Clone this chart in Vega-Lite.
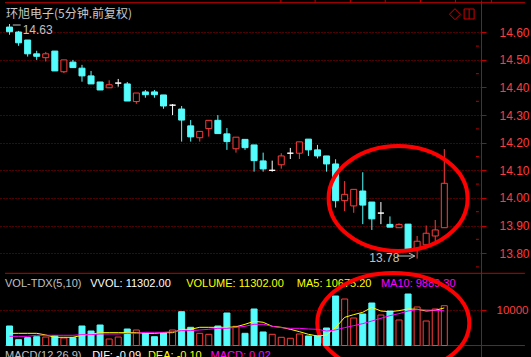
{
  "$schema": "https://vega.github.io/schema/vega-lite/v6.json",
  "width": 481,
  "height": 357,
  "autosize": {"type": "none"},
  "padding": {"left": 0, "top": 0, "right": 50, "bottom": 0},
  "background": "#000000",
  "config": {
    "view": {"stroke": null},
    "axis": {
      "labelFont": "Liberation Sans",
      "labelFontSize": 12,
      "labelColor": "#ff3c3c",
      "tickColor": "#c00000",
      "domainColor": "#c00000",
      "gridColor": "#a00000",
      "gridDash": [1, 2],
      "gridWidth": 1,
      "tickSize": 5,
      "labelPadding": 13,
      "labelFlush": false,
      "labelOverlap": false,
      "title": null
    }
  },
  "datasets": {
    "k": [
      {"i":1,"o":14.619,"h":14.63,"l":14.591,"c":14.602,"d":"down","vd":"down","v":5540,"ma5":3460,"ma10":2610},
      {"i":2,"o":14.601,"h":14.605,"l":14.551,"c":14.562,"d":"down","vd":"down","v":1650,"ma5":3460,"ma10":2610},
      {"i":3,"o":14.572,"h":14.572,"l":14.512,"c":14.522,"d":"down","vd":"down","v":2220,"ma5":3460,"ma10":2610},
      {"i":4,"o":14.522,"h":14.533,"l":14.5,"c":14.513,"d":"down","vd":"down","v":2500,"ma5":3460,"ma10":2900},
      {"i":5,"o":14.508,"h":14.529,"l":14.494,"c":14.522,"d":"up","vd":"up","v":2410,"ma5":2990,"ma10":2900},
      {"i":6,"o":14.532,"h":14.532,"l":14.46,"c":14.46,"d":"down","vd":"down","v":2790,"ma5":2330,"ma10":2900},
      {"i":7,"o":14.457,"h":14.5,"l":14.452,"c":14.5,"d":"up","vd":"up","v":2130,"ma5":2330,"ma10":2900},
      {"i":8,"o":14.492,"h":14.5,"l":14.472,"c":14.472,"d":"down","vd":"down","v":2220,"ma5":2330,"ma10":2900},
      {"i":9,"o":14.47,"h":14.482,"l":14.421,"c":14.442,"d":"down","vd":"down","v":5540,"ma5":2900,"ma10":3080},
      {"i":10,"o":14.442,"h":14.46,"l":14.413,"c":14.413,"d":"down","vd":"down","v":4120,"ma5":3180,"ma10":3080},
      {"i":11,"o":14.42,"h":14.42,"l":14.391,"c":14.391,"d":"down","vd":"down","v":5820,"ma5":3640,"ma10":3270},
      {"i":12,"o":14.399,"h":14.426,"l":14.399,"c":14.41,"d":"up","vd":"up","v":1850,"ma5":3640,"ma10":3270},
      {"i":13,"o":14.416,"h":14.431,"l":14.403,"c":14.416,"d":"flat","vd":"up","v":2410,"ma5":3640,"ma10":3270},
      {"i":14,"o":14.413,"h":14.42,"l":14.351,"c":14.351,"d":"down","vd":"down","v":4690,"ma5":3640,"ma10":3460},
      {"i":15,"o":14.349,"h":14.38,"l":14.341,"c":14.38,"d":"up","vd":"up","v":4400,"ma5":3640,"ma10":3460},
      {"i":16,"o":14.384,"h":14.391,"l":14.363,"c":14.374,"d":"down","vd":"down","v":3460,"ma5":3460,"ma10":3750},
      {"i":17,"o":14.384,"h":14.391,"l":14.363,"c":14.374,"d":"down","vd":"down","v":2500,"ma5":3460,"ma10":3750},
      {"i":18,"o":14.373,"h":14.373,"l":14.323,"c":14.333,"d":"down","vd":"down","v":3640,"ma5":3640,"ma10":3750},
      {"i":19,"o":14.336,"h":14.34,"l":14.3,"c":14.336,"d":"flat","vd":"up","v":4400,"ma5":3640,"ma10":3930},
      {"i":20,"o":14.322,"h":14.333,"l":14.204,"c":14.282,"d":"down","vd":"down","v":9600,"ma5":4600,"ma10":4220},
      {"i":21,"o":14.261,"h":14.282,"l":14.204,"c":14.221,"d":"down","vd":"down","v":5170,"ma5":4600,"ma10":4220},
      {"i":22,"o":14.218,"h":14.241,"l":14.204,"c":14.241,"d":"up","vd":"up","v":3460,"ma5":5170,"ma10":4410},
      {"i":23,"o":14.251,"h":14.281,"l":14.222,"c":14.281,"d":"up","vd":"up","v":3180,"ma5":5170,"ma10":4600},
      {"i":24,"o":14.281,"h":14.3,"l":14.233,"c":14.233,"d":"down","vd":"down","v":5540,"ma5":5170,"ma10":4880},
      {"i":25,"o":14.232,"h":14.253,"l":14.174,"c":14.204,"d":"down","vd":"down","v":9230,"ma5":5170,"ma10":4880},
      {"i":26,"o":14.178,"h":14.22,"l":14.164,"c":14.22,"d":"up","vd":"up","v":5450,"ma5":5300,"ma10":5170},
      {"i":27,"o":14.212,"h":14.212,"l":14.174,"c":14.182,"d":"down","vd":"down","v":3460,"ma5":6020,"ma10":5450},
      {"i":28,"o":14.192,"h":14.192,"l":14.095,"c":14.135,"d":"down","vd":"down","v":10370,"ma5":6870,"ma10":6020},
      {"i":29,"o":14.134,"h":14.164,"l":14.095,"c":14.105,"d":"down","vd":"down","v":3840,"ma5":6600,"ma10":6020},
      {"i":30,"o":14.1,"h":14.135,"l":14.095,"c":14.1,"d":"flat","vd":"up","v":3180,"ma5":5450,"ma10":5450},
      {"i":31,"o":14.12,"h":14.162,"l":14.106,"c":14.152,"d":"up","vd":"up","v":2330,"ma5":5170,"ma10":5070},
      {"i":32,"o":14.162,"h":14.181,"l":14.141,"c":14.162,"d":"flat","vd":"up","v":2050,"ma5":4600,"ma10":4880},
      {"i":33,"o":14.162,"h":14.203,"l":14.141,"c":14.203,"d":"up","vd":"up","v":3270,"ma5":3930,"ma10":4880},
      {"i":34,"o":14.213,"h":14.213,"l":14.152,"c":14.174,"d":"down","vd":"down","v":2700,"ma5":3180,"ma10":4690},
      {"i":35,"o":14.174,"h":14.192,"l":14.143,"c":14.152,"d":"down","vd":"down","v":2700,"ma5":2700,"ma10":4600},
      {"i":36,"o":14.152,"h":14.152,"l":14.095,"c":14.123,"d":"down","vd":"down","v":4970,"ma5":3000,"ma10":4100},
      {"i":37,"o":14.123,"h":14.14,"l":13.965,"c":13.99,"d":"down","vd":"down","v":14060,"ma5":5070,"ma10":4410},
      {"i":38,"o":13.99,"h":14.061,"l":13.952,"c":14.013,"d":"up","vd":"up","v":13210,"ma5":8000,"ma10":5070},
      {"i":39,"o":13.971,"h":14.031,"l":13.946,"c":14.031,"d":"up","vd":"up","v":7810,"ma5":8770,"ma10":5640},
      {"i":40,"o":14.025,"h":14.093,"l":13.905,"c":13.974,"d":"down","vd":"down","v":8950,"ma5":9430,"ma10":6210},
      {"i":41,"o":13.985,"h":13.985,"l":13.884,"c":13.924,"d":"down","vd":"down","v":12070,"ma5":10850,"ma10":6960},
      {"i":42,"o":13.945,"h":13.985,"l":13.905,"c":13.945,"d":"flat","vd":"up","v":8660,"ma5":9800,"ma10":7720},
      {"i":43,"o":13.904,"h":13.933,"l":13.894,"c":13.894,"d":"down","vd":"down","v":9800,"ma5":9600,"ma10":8480},
      {"i":44,"o":13.892,"h":13.908,"l":13.892,"c":13.904,"d":"up","vd":"up","v":7240,"ma5":9900,"ma10":9050},
      {"i":45,"o":13.905,"h":13.905,"l":13.81,"c":13.813,"d":"down","vd":"down","v":14630,"ma5":10370,"ma10":9800},
      {"i":46,"o":13.817,"h":13.862,"l":13.78,"c":13.843,"d":"up","vd":"up","v":10940,"ma5":10300,"ma10":10180},
      {"i":47,"o":13.83,"h":13.9,"l":13.83,"c":13.872,"d":"up","vd":"up","v":6960,"ma5":9800,"ma10":10090},
      {"i":48,"o":13.862,"h":13.92,"l":13.843,"c":13.884,"d":"up","vd":"up","v":10370,"ma5":10000,"ma10":10000},
      {"i":49,"o":13.892,"h":14.177,"l":13.892,"c":14.053,"d":"up","vd":"up","v":11302,"ma5":10675,"ma10":9889}
    ],
    "lines": [
      {"x1":0.5,"x2":57.9,"y1":14.7072,"y2":14.7072},
      {"x1":0.5,"x2":57.9,"y1":13.7268,"y2":13.7268},
      {"x1":0.5,"x2":57.9,"y1":13.4652,"y2":13.4652},
      {"x1":30.95,"x2":30.95,"y1":14.7072,"y2":14.72},
      {"x1":34.74,"x2":34.74,"y1":14.7072,"y2":14.72},
      {"x1":38.63,"x2":38.63,"y1":14.7072,"y2":14.72},
      {"x1":42.48,"x2":42.48,"y1":14.7072,"y2":14.72},
      {"x1":46.37,"x2":46.37,"y1":14.7072,"y2":14.72},
      {"x1":50.23,"x2":50.23,"y1":14.7072,"y2":14.72},
      {"x1":54.2,"x2":54.2,"y1":14.7072,"y2":14.72},
      {"x1":52.5,"x2":52.82,"y1":13.75,"y2":13.75},
      {"x1":52.5,"x2":52.82,"y1":13.85,"y2":13.85},
      {"x1":52.5,"x2":52.82,"y1":13.95,"y2":13.95},
      {"x1":52.5,"x2":52.82,"y1":14.05,"y2":14.05},
      {"x1":52.5,"x2":52.82,"y1":14.15,"y2":14.15},
      {"x1":52.5,"x2":52.82,"y1":14.25,"y2":14.25},
      {"x1":52.5,"x2":52.82,"y1":14.35,"y2":14.35},
      {"x1":52.5,"x2":52.82,"y1":14.45,"y2":14.45},
      {"x1":52.5,"x2":52.82,"y1":14.55,"y2":14.55}
    ],
    "marks": [
      {"x1":1.36,"x2":2.23,"y1":14.6264,"y2":14.6264},
      {"x1":43.74,"x2":45.69,"y1":13.7895,"y2":13.7895}
    ],
    "hdr": [
      {"s":0.5,"p":13.6783,"t":"VOL-TDX(5,10)","k":"gray"},
      {"s":9.91,"p":13.6783,"t":"VVOL: 11302.00","k":"white"},
      {"s":20.5,"p":13.6783,"t":"VOLUME: 11302.00","k":"yellow"},
      {"s":32.72,"p":13.6783,"t":"MA5: 10675.20","k":"yellow"},
      {"s":42.0,"p":13.6783,"t":"MA10: 9889.30","k":"magenta"},
      {"s":0.5,"p":13.4181,"t":"MACD(12,26,9)","k":"gray"},
      {"s":10.12,"p":13.4181,"t":"DIF: -0.09","k":"white"},
      {"s":16.28,"p":13.4181,"t":"DEA: -0.10","k":"yellow"},
      {"s":23.2,"p":13.4181,"t":"MACD: 0.02","k":"magenta"}
    ],
    "lbl": [
      {"s":2.45,"p":14.5938,"t":"14.63","k":"gray"},
      {"s":40.72,"p":13.766,"t":"13.78","k":"gray"}
    ]
  },
  "layer": [
    {
      "layer": [
        {
          "data": {"name": "k"},
          "mark": {"type": "rule", "strokeWidth": 1},
          "encoding": {
            "x": {"field": "i", "type": "quantitative", "scale": {"domain": [0.5, 52.5], "nice": false, "zero": false}, "axis": null},
            "y": {"field": "l", "type": "quantitative", "scale": {"domain": [13.4236, 14.717], "nice": false, "zero": false},
              "axis": {"orient": "right", "values": [13.8, 13.9, 14.0, 14.1, 14.2, 14.3, 14.4, 14.5, 14.6], "format": ".2f", "grid": true, "domain": true, "domainWidth": 1}},
            "y2": {"field": "h"},
            "stroke": {"field": "d", "type": "nominal", "scale": {"domain": ["down", "up", "flat"], "range": ["#54fcfc", "#ff3c3c", "#ffffff"]}, "legend": null}
          }
        },
        {
          "data": {"name": "k"},
          "mark": {"type": "bar", "size": 6, "strokeWidth": 1},
          "encoding": {
            "x": {"field": "i", "type": "quantitative", "axis": null},
            "y": {"field": "o", "type": "quantitative"},
            "y2": {"field": "c"},
            "fill": {"field": "d", "type": "nominal", "scale": {"domain": ["down", "up", "flat"], "range": ["#54fcfc", "#000000", "#ffffff"]}, "legend": null},
            "stroke": {"field": "d", "type": "nominal", "legend": null}
          }
        },
        {
          "data": {"name": "lines"},
          "mark": {"type": "rule", "color": "#c00000", "strokeWidth": 1},
          "encoding": {
            "x": {"field": "x1", "type": "quantitative", "axis": null},
            "x2": {"field": "x2"},
            "y": {"field": "y1", "type": "quantitative"},
            "y2": {"field": "y2"}
          }
        },
        {
          "data": {"name": "marks"},
          "mark": {"type": "rule", "color": "#c0c0c0", "strokeWidth": 1},
          "encoding": {
            "x": {"field": "x1", "type": "quantitative", "axis": null},
            "x2": {"field": "x2"},
            "y": {"field": "y1", "type": "quantitative"},
            "y2": {"field": "y2"}
          }
        },
        {
          "data": {"values": [{"s": 45.42, "p": 13.7895}]},
          "mark": {"type": "point", "shape": "M -1 -1 L 1 0 L -1 1", "size": 36, "filled": false, "stroke": "#c0c0c0", "strokeWidth": 1, "opacity": 1},
          "encoding": {
            "x": {"field": "s", "type": "quantitative", "axis": null},
            "y": {"field": "p", "type": "quantitative"}
          }
        },
        {
          "data": {"values": [{"s": 50.18, "p": 14.6656}]},
          "mark": {"type": "point", "shape": "diamond", "size": 121, "filled": false, "stroke": "#d00000", "strokeWidth": 1, "opacity": 1},
          "encoding": {
            "x": {"field": "s", "type": "quantitative", "axis": null},
            "y": {"field": "p", "type": "quantitative"}
          }
        },
        {
          "data": {"values": [{"s": 51.74, "p": 14.6663}]},
          "mark": {"type": "point", "shape": "M -1 -1 L 1 -1 L 1 1 L -1 1 Z M 0 -1 L 0 1", "size": 100, "filled": false, "stroke": "#d00000", "strokeWidth": 1, "opacity": 1},
          "encoding": {
            "x": {"field": "s", "type": "quantitative", "axis": null},
            "y": {"field": "p", "type": "quantitative"}
          }
        },
        {
          "data": {"name": "hdr"},
          "mark": {"type": "text", "align": "left", "baseline": "alphabetic", "font": "Liberation Sans", "fontSize": 11},
          "encoding": {
            "x": {"field": "s", "type": "quantitative", "axis": null},
            "y": {"field": "p", "type": "quantitative"},
            "text": {"field": "t"},
            "color": {"field": "k", "type": "nominal", "scale": {"domain": ["gray", "white", "yellow", "magenta"], "range": ["#c0c0c0", "#ffffff", "#ffff00", "#ff00ff"]}, "legend": null}
          }
        },
        {
          "data": {"name": "lbl"},
          "mark": {"type": "text", "align": "left", "baseline": "alphabetic", "font": "Liberation Sans", "fontSize": 12},
          "encoding": {
            "x": {"field": "s", "type": "quantitative", "axis": null},
            "y": {"field": "p", "type": "quantitative"},
            "text": {"field": "t"},
            "color": {"field": "k", "type": "nominal", "legend": null}
          }
        },
        {
          "data": {"values": [{"s": 0.61, "p": 14.65, "t": "环旭电子(5分钟.前复权)"}]},
          "mark": {"type": "text", "align": "left", "baseline": "alphabetic", "font": "Noto Sans CJK SC", "fontSize": 12, "color": "#c8c8c8"},
          "encoding": {
            "x": {"field": "s", "type": "quantitative", "axis": null},
            "y": {"field": "p", "type": "quantitative"},
            "text": {"field": "t"}
          }
        },
        {
          "data": {"values": [{"s": 43.9, "p": 13.9978}]},
          "mark": {"type": "point", "shape": "M 1 0 C 1 0.417 0.5523 0.755 0 0.755 C -0.5523 0.755 -1 0.417 -1 0 C -1 -0.417 -0.5523 -0.755 0 -0.755 C 0.5523 -0.755 1 -0.417 1 0 Z", "size": 19321, "filled": false, "stroke": "#ff0000", "strokeWidth": 4, "opacity": 1},
          "encoding": {
            "x": {"field": "s", "type": "quantitative", "axis": null},
            "y": {"field": "p", "type": "quantitative"}
          }
        },
        {
          "data": {"values": [{"s": 43.37, "p": 13.5467}]},
          "mark": {"type": "point", "shape": "M 1 0 C 1 0.3634 0.5523 0.658 0 0.658 C -0.5523 0.658 -1 0.3634 -1 0 C -1 -0.3634 -0.5523 -0.658 0 -0.658 C 0.5523 -0.658 1 -0.3634 1 0 Z", "size": 23104, "filled": false, "stroke": "#ff0000", "strokeWidth": 4, "opacity": 1},
          "encoding": {
            "x": {"field": "s", "type": "quantitative", "axis": null},
            "y": {"field": "p", "type": "quantitative"}
          }
        }
      ]
    },
    {
      "layer": [
        {
          "data": {"name": "k"},
          "mark": {"type": "bar", "size": 6, "strokeWidth": 1},
          "encoding": {
            "x": {"field": "i", "type": "quantitative", "axis": null},
            "y": {"field": "v", "type": "quantitative", "scale": {"domain": [-3267, 98153], "nice": false, "zero": false},
              "axis": {"orient": "right", "values": [10000], "format": "d", "grid": true, "domain": false, "labelPadding": 10, "labelFontSize": 11.5}},
            "y2": {"datum": 0},
            "fill": {"field": "vd", "type": "nominal", "scale": {"domain": ["down", "up", "flat"], "range": ["#54fcfc", "#000000", "#ffffff"]}, "legend": null},
            "stroke": {"field": "vd", "type": "nominal", "scale": {"domain": ["down", "up", "flat"], "range": ["#54fcfc", "#ff3c3c", "#ffffff"]}, "legend": null}
          }
        },
        {
          "data": {"name": "k"},
          "mark": {"type": "line", "color": "#ffff00", "strokeWidth": 1},
          "encoding": {
            "x": {"field": "i", "type": "quantitative", "axis": null},
            "y": {"field": "ma5", "type": "quantitative"}
          }
        },
        {
          "data": {"name": "k"},
          "mark": {"type": "line", "color": "#ff00ff", "strokeWidth": 1},
          "encoding": {
            "x": {"field": "i", "type": "quantitative", "axis": null},
            "y": {"field": "ma10", "type": "quantitative"}
          }
        }
      ]
    }
  ],
  "resolve": {"scale": {"y": "independent"}, "axis": {"y": "independent"}}
}
